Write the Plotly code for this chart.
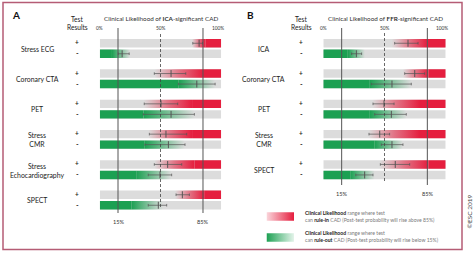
import plotly.graph_objects as go

# ---------------- data ----------------
rows_a = ["Stress ECG", "Coronary CTA", "PET", "Stress<br>CMR", "Stress<br>Echocardiography", "SPECT"]
rows_b = ["ICA", "Coronary CTA", "PET", "Stress<br>CMR", "SPECT"]

# point estimate and confidence range (percent clinical likelihood)
a_pos_pt = [81.8, 58.7, 50.4, 54.5, 55.9, 68.0]
a_pos_lo = [76.6, 44.9, 36.6, 40.8, 44.9, 62.8]
a_pos_hi = [84.6, 70.8, 64.2, 71.6, 67.5, 73.8]
a_neg_pt = [18.4, 79.9, 58.7, 56.5, 49.6, 48.2]
a_neg_lo = [15.2, 64.7, 35.8, 37.2, 39.9, 39.9]
a_neg_hi = [24.2, 95.0, 77.9, 70.2, 59.2, 55.1]
# gradient ranges (start -> end of colour transition)
a_pos_g0 = [76, 45, 36, 40, 45, 62]
a_pos_g1 = [87, 85, 76, 76, 78, 86]
a_neg_g0 = [10, 65, 36, 37, 30, 26]
a_neg_g1 = [25, 95, 78, 70, 59, 52]

b_pos_pt = [69.2, 74.7, 49.6, 46.1, 58.8]
b_pos_lo = [58.3, 66.5, 40.6, 37.3, 46.6]
b_pos_hi = [77.4, 82.8, 57.8, 54.2, 70.6]
b_neg_pt = [27.0, 56.1, 55.6, 56.1, 33.8]
b_neg_lo = [23.1, 39.2, 42.0, 47.4, 26.5]
b_neg_hi = [31.3, 71.9, 67.8, 65.1, 40.6]
b_pos_g0 = [56, 65, 40, 37, 46]
b_pos_g1 = [85, 86, 79, 79, 86]
b_neg_g0 = [20, 38, 38, 42, 22]
b_neg_g1 = [34, 72, 68, 65, 42]

ticks_top = ["0%", "50%", "100%"]
ticks_bottom = ["15%", "85%"]
thresholds = [15, 85]

# ---------------- style / layout helpers ----------------
W, H = 474, 253
RED = (229, 30, 62)
GREEN = (28, 160, 82)
GRAY = "#dcdcdc"
FONT = "Lato"
ROW0, ROWSTEP = 48.5, 30.3      # pixel centre of first group, group spacing
OFF = 5.25 / ROWSTEP            # +/- offset within a group
BARH = 8.4 / ROWSTEP            # bar thickness


def rgba(c, a):
    return f"rgba({c[0]},{c[1]},{c[2]},{a})"


def py2y(py):
    return (py - ROW0) / ROWSTEP


def px(xp):
    return xp / W


def py(yp):
    return 1 - yp / H


fig = go.Figure()


def rect(xa, x0, x1, yc, **kw):
    y0, y1 = yc - BARH / 2, yc + BARH / 2
    fig.add_trace(go.Scatter(x=[x0, x1, x1, x0, x0], y=[y0, y0, y1, y1, y0],
                             xaxis=xa, yaxis="y", mode="lines", fill="toself",
                             line=dict(width=0), hoverinfo="skip", showlegend=False, **kw))


def panel(xa, names, ppt, plo, phi, npt, nlo, nhi, pg0, pg1, ng0, ng1):
    n = len(names)
    ypos = [i - OFF for i in range(n)]
    yneg = [i + OFF for i in range(n)]
    fig.add_trace(go.Bar(x=[100] * (2 * n), base=[0] * (2 * n), y=ypos + yneg, width=BARH,
                         orientation="h", marker=dict(color=GRAY, line=dict(width=0)),
                         xaxis=xa, yaxis="y", hoverinfo="skip", showlegend=False))
    for i in range(n):
        # rule-in (red)
        rect(xa, pg0[i], pg1[i], ypos[i],
             fillgradient=dict(type="horizontal",
                               colorscale=[[0, rgba(RED, 0)], [0.5, rgba(RED, 0.55)], [1, rgba(RED, 1)]]))
        rect(xa, pg1[i], 100, ypos[i], fillcolor=rgba(RED, 1))
        # rule-out (green)
        rect(xa, 0, ng0[i], yneg[i], fillcolor=rgba(GREEN, 1))
        rect(xa, ng0[i], ng1[i], yneg[i],
             fillgradient=dict(type="horizontal",
                               colorscale=[[0, rgba(GREEN, 1)], [0.5, rgba(GREEN, 0.5)], [1, rgba(GREEN, 0)]]))
    pts = ppt + npt
    lo = plo + nlo
    hi = phi + nhi
    fig.add_trace(go.Scatter(
        x=pts, y=ypos + yneg, xaxis=xa, yaxis="y", mode="markers",
        marker=dict(symbol="line-ns", size=5, line=dict(width=1, color="#555")),
        error_x=dict(type="data", symmetric=False,
                     array=[h - p for h, p in zip(hi, pts)],
                     arrayminus=[p - l for p, l in zip(pts, lo)],
                     thickness=0.7, width=1.3, color="#555"),
        hoverinfo="skip", showlegend=False))


panel("x", rows_a, a_pos_pt, a_pos_lo, a_pos_hi, a_neg_pt, a_neg_lo, a_neg_hi,
      a_pos_g0, a_pos_g1, a_neg_g0, a_neg_g1)
panel("x2", rows_b, b_pos_pt, b_pos_lo, b_pos_hi, b_neg_pt, b_neg_lo, b_neg_hi,
      b_pos_g0, b_pos_g1, b_neg_g0, b_neg_g1)

# legend swatches
for yc, cs in [(py2y(216.5), [[0, rgba(RED, 0.18)], [1, rgba(RED, 1)]]),
               (py2y(237.5), [[0, rgba(GREEN, 1)], [1, rgba(GREEN, 0.12)]])]:
    rect("x3", 0, 1, yc, fillgradient=dict(type="horizontal", colorscale=cs))

axis_common = dict(showgrid=False, zeroline=False, showticklabels=False, ticks="",
                   showline=False, fixedrange=True)
fig.update_layout(
    width=W, height=H, margin=dict(l=0, r=0, t=0, b=0),
    paper_bgcolor="white", plot_bgcolor="rgba(0,0,0,0)",
    barmode="overlay",
    xaxis=dict(domain=[px(99.8), px(221.2)], range=[0, 100], anchor="y", **axis_common),
    xaxis2=dict(domain=[px(323.3), px(445.7)], range=[0, 100], anchor="y", **axis_common),
    xaxis3=dict(domain=[px(266.5), px(294)], range=[0, 1], anchor="y", **axis_common),
    yaxis=dict(domain=[0, 1], range=[py2y(H), py2y(0)], **axis_common),
    font=dict(family=FONT, color="#222"),
)

shapes = []
# frame
shapes.append(dict(type="rect", xref="paper", yref="paper", x0=px(3), x1=px(462), y0=py(249.5), y1=py(2.5),
                   line=dict(color="#b55c75", width=1.5), fillcolor="rgba(0,0,0,0)", layer="above"))
for xa, ytop, ybot, dbot in [("x", 28, 213, 207), ("x2", 28, 185, 181)]:
    for t in thresholds:
        shapes.append(dict(type="line", xref=xa, yref="paper", x0=t, x1=t, y0=py(ybot), y1=py(ytop),
                           line=dict(color="#555", width=1), layer="above"))
    shapes.append(dict(type="line", xref=xa, yref="paper", x0=50, x1=50, y0=py(dbot), y1=py(33),
                       line=dict(color="#444", width=0.8, dash="3px,2px"), layer="above"))
fig.update_layout(shapes=shapes)

ann = []


def text(x, y, s, size, color="#222", xanchor="center", **kw):
    ann.append(dict(x=px(x), y=py(y), xref="paper", yref="paper", text=s, showarrow=False,
                    xanchor=xanchor, yanchor="middle", font=dict(size=size, color=color, family=FONT), **kw))


# panel letters
text(16, 15, "<b>A</b>", 10, "#111")
text(250.5, 15, "<b>B</b>", 10, "#111")
# column headers
for xc in (77, 301):
    text(xc, 19, "Test", 6.6)
    text(xc, 27, "Results", 6.6)
text(160.5, 18, "Clinical Likelihood of <b>ICA</b>-significant CAD", 6.3, "#333")
text(385, 18, "Clinical Likelihood of <b>FFR</b>-significant CAD", 6.3, "#333")
# top tick labels
for x0, w in [(99.8, 121.4), (323.3, 122.4)]:
    for v, lab in zip([0, 50, 97], ticks_top):
        text(x0 + w * v / 100, 28, lab, 4.8, "#333")
# bottom threshold labels
for x0, w, yb in [(99.8, 121.4, 221.5), (323.3, 122.4, 193)]:
    for t, lab in zip(thresholds, ticks_bottom):
        text(x0 + w * t / 100, yb, lab, 5.6, "#333")
# row labels and +/- signs
for names, xl, xs in [(rows_a, 37, 77), (rows_b, 263.5, 301)]:
    for i, nm in enumerate(names):
        yc = ROW0 + ROWSTEP * i
        text(xl, yc + (0.5 if "<br>" in nm else 0), nm, 6.9, "#222")
        text(xs, yc - OFF * ROWSTEP - 0.5, "<b>+</b>", 6.5, "#222")
        text(xs, yc + OFF * ROWSTEP - 0.5, "<b>-</b>", 7, "#222")
# legend text
G = "#7a7a7a"
text(303, 213, "<b>Clinical Likelihood</b> <span style='color:%s'>range where test</span>" % G, 5.1, "#222", "left")
text(303, 219.5, "<span style='color:%s'>can</span> <b>rule-in</b> <span style='color:%s'>CAD (Post-test probability will rise above 85%%)</span>" % (G, G), 5.1, "#222", "left")
text(303, 232.5, "<b>Clinical Likelihood</b> <span style='color:%s'>range where test</span>" % G, 5.1, "#222", "left")
text(303, 239.5, "<span style='color:%s'>can</span> <b>rule-out</b> <span style='color:%s'>CAD (Post-test probability will rise below 15%%)</span>" % (G, G), 5.1, "#222", "left")
# copyright
text(468.5, 212, "©ESC 2019", 6.5, "#444", textangle=-90)

fig.update_layout(annotations=ann)
fig.write_html("out.html")
